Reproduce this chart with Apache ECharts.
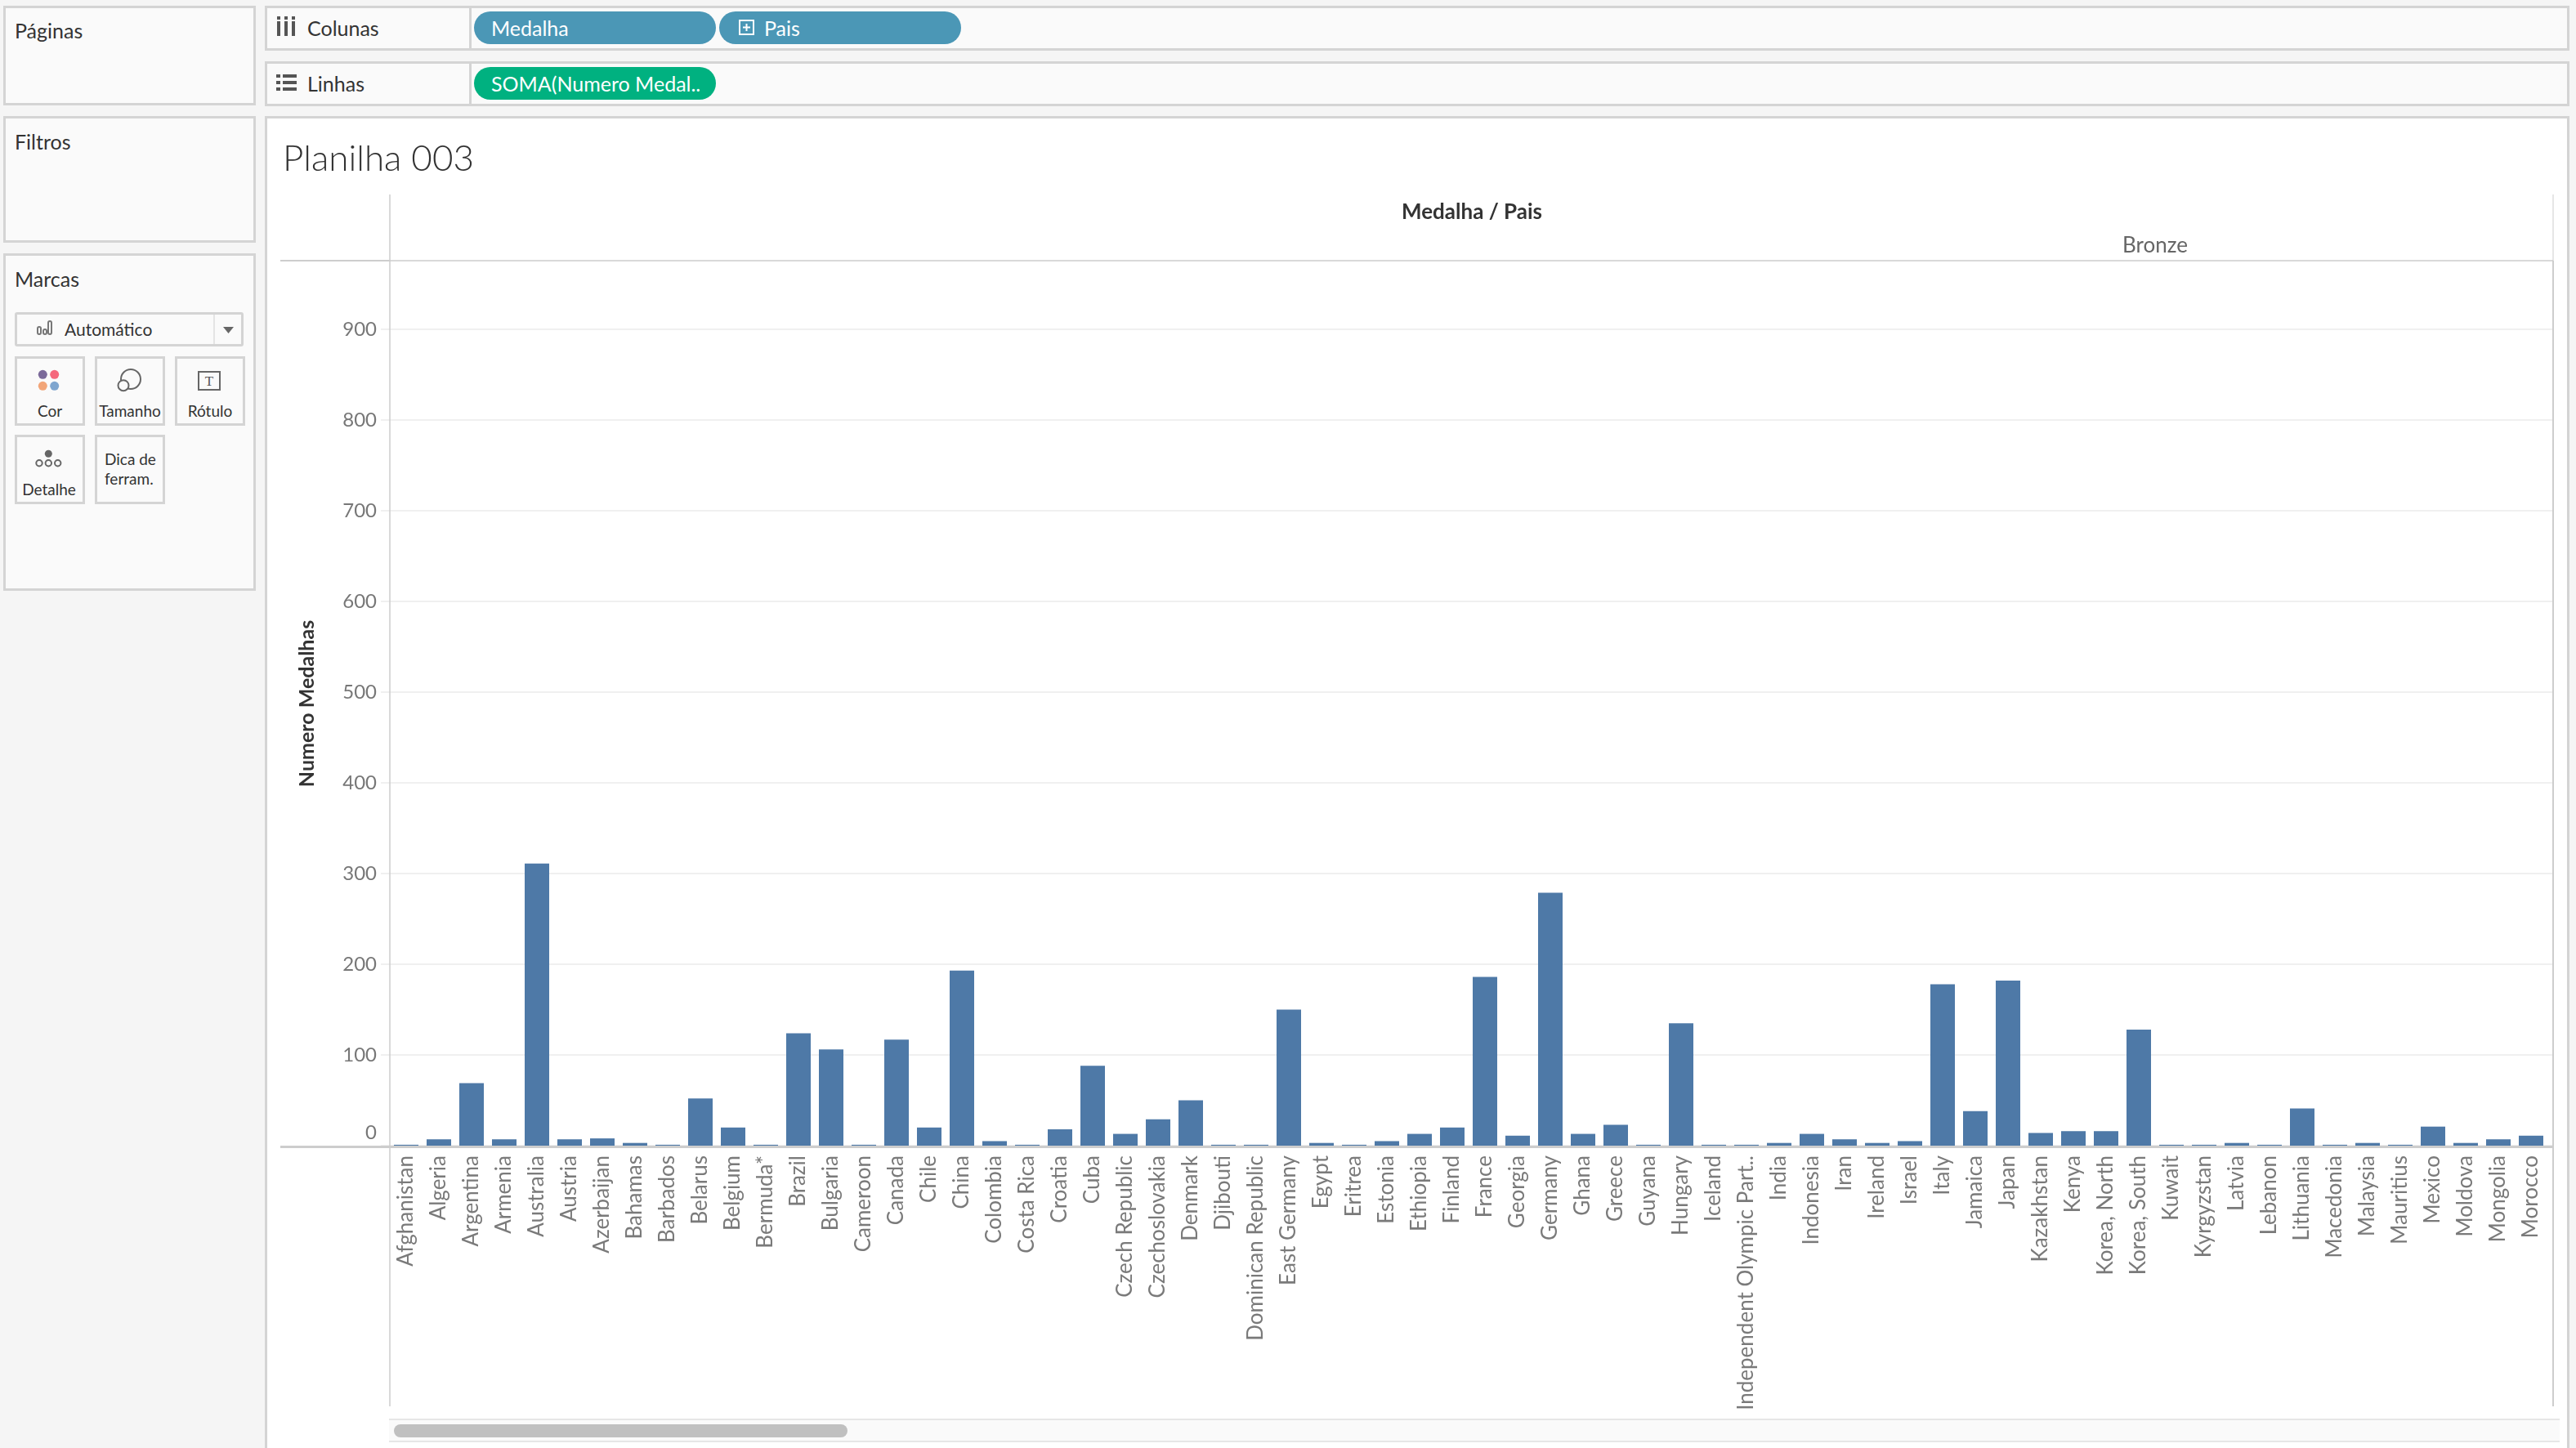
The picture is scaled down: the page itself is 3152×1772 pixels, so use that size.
<!DOCTYPE html>
<html>
<head>
	<meta charset="UTF-8">
	<title>Planilha 003</title>
	<script src="https://cdn.jsdelivr.net/npm/echarts@6/dist/echarts.min.js"></script>
	<style>
		html, body { margin: 0; padding: 0; background: #f5f5f5; }
		body { width: 3152px; height: 1772px; position: relative; overflow: hidden; font-family: Lato, "Open Sans", sans-serif; color: #333; }
		.box { position: absolute; box-sizing: border-box; border: 3px solid #d4d4d4; background: #fafafa; }
		.txt { position: absolute; font-size: 25px; line-height: 30px; white-space: nowrap; }
		.pill { position: absolute; height: 40px; border-radius: 20px; color: #fff; font-size: 25px; line-height: 40px; box-sizing: border-box; white-space: nowrap; }
		.btn { position: absolute; box-sizing: border-box; width: 86px; height: 85px; border: 3px solid #d4d4d4; }
		.lbl { position: absolute; font-size: 19px; line-height: 24px; text-align: center; width: 86px; white-space: nowrap; }
		svg { position: absolute; overflow: visible; }
		#main { position: absolute; left: 0; top: 0; width: 3152px; height: 1772px; }
	</style>
</head>
<body>

<!-- paineis da esquerda -->
<div class="box" style="left:4px;top:7px;width:309px;height:122px"></div>
<div class="box" style="left:4px;top:142px;width:309px;height:155px"></div>
<div class="box" style="left:4px;top:310px;width:309px;height:413px"></div>
<div class="txt" style="left:18px;top:22px">Páginas</div>
<div class="txt" style="left:18px;top:158px">Filtros</div>
<div class="txt" style="left:18px;top:326px">Marcas</div>

<!-- Automatico -->
<div class="box" style="left:18px;top:382px;width:280px;height:42px;border-radius:3px"></div>
<div style="position:absolute;left:261px;top:385px;width:2px;height:36px;background:#e4e4e4"></div>
<svg style="left:0;top:0" width="320" height="620">
	<g fill="none" stroke="#777" stroke-width="2">
		<rect x="46" y="400" width="4" height="9" rx="2"/>
		<rect x="53" y="403" width="4" height="6" rx="2"/>
		<rect x="59" y="393" width="4" height="16" rx="2"/>
	</g>
	<polygon points="273,400 286,400 279.5,408" fill="#666"/>
	<!-- Cor -->
	<circle cx="52.3" cy="458.3" r="5.5" fill="#7b6a9a"/>
	<circle cx="66.7" cy="458.3" r="5.5" fill="#f5697d"/>
	<circle cx="52.3" cy="472.3" r="5.5" fill="#f2a578"/>
	<circle cx="66.7" cy="472.3" r="5.5" fill="#7fa6cf"/>
	<!-- Tamanho -->
	<circle cx="160" cy="464" r="12" fill="none" stroke="#666" stroke-width="2"/>
	<circle cx="151" cy="471.7" r="6.5" fill="#fafafa" stroke="#666" stroke-width="2"/>
	<!-- Rotulo -->
	<rect x="243" y="455" width="26" height="22" fill="none" stroke="#666" stroke-width="2"/>
	<text x="256" y="472" text-anchor="middle" font-family="Liberation Serif" font-size="17" fill="#555">T</text>
	<!-- Detalhe -->
	<circle cx="59.3" cy="555.3" r="4.5" fill="#666"/>
	<circle cx="48" cy="566.7" r="3.7" fill="none" stroke="#666" stroke-width="2"/>
	<circle cx="59.3" cy="566.7" r="3.7" fill="none" stroke="#666" stroke-width="2"/>
	<circle cx="70.7" cy="566.7" r="3.7" fill="none" stroke="#666" stroke-width="2"/>
</svg>
<div class="txt" style="left:79px;top:388px;font-size:21px">Automático</div>

<div class="btn" style="left:18px;top:436px"></div>
<div class="btn" style="left:116px;top:436px"></div>
<div class="btn" style="left:214px;top:436px"></div>
<div class="btn" style="left:18px;top:532px"></div>
<div class="btn" style="left:116px;top:532px"></div>
<div class="lbl" style="left:18px;top:491px">Cor</div>
<div class="lbl" style="left:116px;top:491px">Tamanho</div>
<div class="lbl" style="left:214px;top:491px">Rótulo</div>
<div class="lbl" style="left:17px;top:587px">Detalhe</div>
<div class="lbl" style="left:128px;top:550px;width:auto">Dica de</div>
<div class="lbl" style="left:128px;top:574px;width:auto">ferram.</div>

<!-- prateleiras -->
<div class="box" style="left:324px;top:7px;width:2820px;height:55px"></div>
<div class="box" style="left:324px;top:75px;width:2820px;height:55px"></div>
<div style="position:absolute;left:574px;top:10px;width:3px;height:49px;background:#d4d4d4"></div>
<div style="position:absolute;left:574px;top:78px;width:3px;height:49px;background:#d4d4d4"></div>
<svg style="left:0;top:0" width="400" height="130">
	<g fill="#555">
		<rect x="339" y="26" width="4" height="18"/><rect x="339" y="20" width="4" height="4"/>
		<rect x="348" y="26" width="4" height="18"/><rect x="348" y="20" width="4" height="4"/>
		<rect x="357" y="26" width="4" height="18"/><rect x="357" y="20" width="4" height="4"/>
		<rect x="338" y="91" width="5" height="4"/><rect x="346" y="91" width="17" height="4"/>
		<rect x="338" y="99" width="5" height="4"/><rect x="346" y="99" width="17" height="4"/>
		<rect x="338" y="107" width="5" height="4"/><rect x="346" y="107" width="17" height="4"/>
	</g>
</svg>
<div class="txt" style="left:376px;top:19px">Colunas</div>
<div class="txt" style="left:376px;top:87px">Linhas</div>

<div class="pill" style="left:580px;top:14px;width:296px;background:#4b97b6;padding-left:21px">Medalha</div>
<div class="pill" style="left:880px;top:14px;width:296px;background:#4b97b6;padding-left:55px">Pais</div>
<svg style="left:0;top:0" width="940" height="60">
	<rect x="905" y="25" width="17" height="17" fill="none" stroke="#fff" stroke-width="2"/>
	<path d="M913.5 29v9M909 33.500h9" stroke="#fff" stroke-width="2"/>
</svg>
<div class="pill" style="left:580px;top:82px;width:296px;background:#00b180;padding-left:21px">SOMA(Numero Medal..</div>

<!-- area da planilha -->
<div class="box" style="left:324px;top:142px;width:2820px;height:1640px;background:#fff"></div>

<!-- barra de rolagem -->
<div style="position:absolute;left:476px;top:1736px;width:2656px;height:29px;box-sizing:border-box;background:#fafafa;border-top:2px solid #e6e6e6;border-bottom:2px solid #e6e6e6"></div>
<div style="position:absolute;left:482px;top:1743px;width:555px;height:16px;border-radius:8px;background:#c0c0c0"></div>

<div id="main"></div>

<script type="text/javascript">

	var countries = [
		"Afghanistan", "Algeria", "Argentina", "Armenia", "Australia", "Austria", "Azerbaijan", "Bahamas", "Barbados", "Belarus", "Belgium",
		"Bermuda*", "Brazil", "Bulgaria", "Cameroon", "Canada", "Chile", "China", "Colombia", "Costa Rica", "Croatia", "Cuba",
		"Czech Republic", "Czechoslovakia", "Denmark", "Djibouti", "Dominican Republic", "East Germany", "Egypt", "Eritrea", "Estonia", "Ethiopia", "Finland",
		"France", "Georgia", "Germany", "Ghana", "Greece", "Guyana", "Hungary", "Iceland", "Independent Olympic Part..", "India", "Indonesia",
		"Iran", "Ireland", "Israel", "Italy", "Jamaica", "Japan", "Kazakhstan", "Kenya", "Korea, North", "Korea, South", "Kuwait",
		"Kyrgyzstan", "Latvia", "Lebanon", "Lithuania", "Macedonia", "Malaysia", "Mauritius", "Mexico", "Moldova", "Mongolia", "Morocco"
	];

	// Bronze
	var medals = [
		1, 7, 69, 7, 311, 7, 8, 3, 1, 52, 20,
		1, 124, 106, 1, 117, 20, 193, 5, 1, 18, 88,
		13, 29, 50, 1, 1, 150, 3, 1, 5, 13, 20,
		186, 11, 279, 13, 23, 1, 135, 1, 1, 3, 13,
		7, 3, 5, 178, 38, 182, 14, 16, 16, 128, 1,
		1, 3, 1, 41, 1, 3, 1, 21, 3, 7, 11
	];

	var yMax = 975;
	var yStep = 100;
	var fontName = 'Lato';
	var lineColor = '#cdcdcd';

	function hline(x1, x2, y, w) {
		return { type: 'line', z: 10, shape: { x1: x1, y1: y, x2: x2, y2: y }, style: { stroke: lineColor, lineWidth: w } };
	}
	function vline(x, y1, y2, w) {
		return { type: 'line', z: 10, shape: { x1: x, y1: y1, x2: x, y2: y2 }, style: { stroke: lineColor, lineWidth: w } };
	}

	var myChart = echarts.init(document.getElementById('main'));
	var option = {
		animation: false,
		title: {
			text: 'Planilha 003',
			left: 346,
			top: 173,
			padding: 0,
			textStyle: { fontFamily: fontName, fontWeight: 300, fontSize: 44, color: '#333' }
		},
		grid: [
			{ left: 477, top: 320, width: 2640, height: 1082 },
			{ left: 3117, top: 320, width: 7, height: 1082 }
		],
		xAxis: [{
			type: 'category',
			data: countries,
			offset: 2,
			axisLine: { show: false },
			axisTick: { length: 7, lineStyle: { color: '#eeeeee', width: 2 } },
			axisLabel: { interval: 0, rotate: 90, margin: 10, fontFamily: fontName, fontSize: 26, color: '#7a7a7a' }
		}, {
			type: 'category',
			gridIndex: 1,
			data: [''],
			show: false
		}],
		yAxis: [{
			type: 'value',
			min: 0,
			max: yMax,
			interval: yStep,
			name: 'Numero Medalhas',
			nameLocation: 'middle',
			nameRotate: 90,
			nameGap: 89,
			nameTextStyle: { fontFamily: fontName, fontWeight: 'bold', fontSize: 25, color: '#333' },
			axisLine: { show: false },
			axisTick: { show: true, length: 11, lineStyle: { color: '#f0f0f0', width: 2 } },
			axisLabel: {
				margin: 16,
				showMaxLabel: false,
				verticalAlignMinLabel: 'bottom',
				fontFamily: fontName,
				fontSize: 24,
				color: '#777',
				formatter: function (v) { return v === 0 ? '{zero|0}' : v; },
				rich: { zero: { fontFamily: fontName, fontSize: 24, color: '#777', padding: [0, 0, 4, 0] } }
			},
			splitLine: { showMaxLine: false, lineStyle: { color: '#f0f0f0', width: 2 } }
		}, {
			type: 'value',
			gridIndex: 1,
			min: 0,
			max: yMax,
			interval: yStep,
			axisLine: { show: false },
			axisTick: { show: false },
			axisLabel: { show: false },
			splitLine: { showMaxLine: false, lineStyle: { color: '#f0f0f0', width: 2 } }
		}],
		series: [{
			type: 'bar',
			data: medals,
			barWidth: 30,
			itemStyle: { color: '#4e79a7' }
		}],
		graphic: [
			vline(477, 238, 1721, 1.5),
			vline(3124, 238, 319, 1),
			vline(3124, 319, 1721, 2),
			hline(343, 477, 319, 2),
			hline(477, 3124, 319, 1.5),
			hline(343, 3124, 1403.5, 3),
			{ type: 'text', z: 10, style: { text: 'Medalha / Pais', x: 1801, y: 260, align: 'center', verticalAlign: 'middle', fontFamily: fontName, fontWeight: 'bold', fontSize: 26, fill: '#333' } },
			{ type: 'text', z: 10, style: { text: 'Bronze', x: 2637, y: 301, align: 'center', verticalAlign: 'middle', fontFamily: fontName, fontSize: 26, fill: '#666' } }
		]
	};
	myChart.setOption(option);

</script>
</body>
</html>
